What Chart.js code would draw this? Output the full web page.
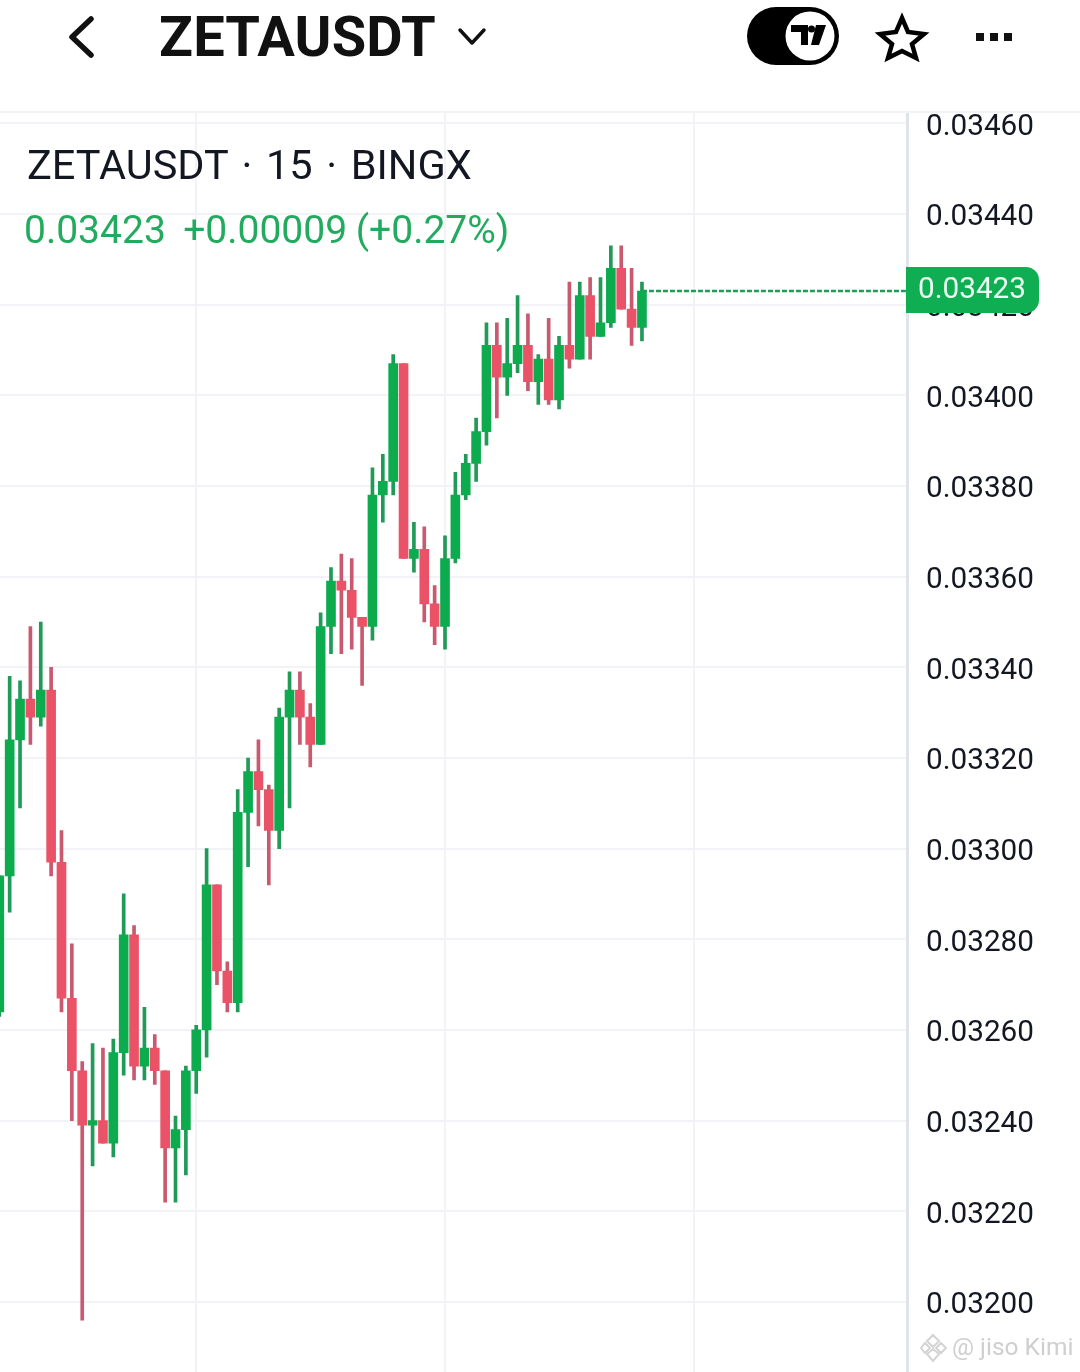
<!DOCTYPE html>
<html lang="en">
<head>
    <meta charset="UTF-8">
    <title>ZETAUSDT 15 BINGX</title>
    <style>
        html, body { margin: 0; padding: 0; background: #fff; width: 1080px; height: 1372px; overflow: hidden; font-family: Roboto, sans-serif; }
        #wrap { position: relative; width: 1080px; height: 1372px; overflow: hidden; }
        #chart { position: absolute; left: 0; top: 0; }
        #topline { position: absolute; left: 0; top: 111px; width: 1080px; height: 2px; background: #f2f3f5; }
        .txt { position: absolute; white-space: pre; line-height: 1; }
        #symbol { left: 159px; top: 9px; font-size: 56px; font-weight: 700; color: #111; letter-spacing: 0.15px; }
        #legend1 { left: 27px; top: 144px; font-size: 41.5px; color: #131722; word-spacing: 3.3px; }
        #legend2 { left: 24px; top: 211px; font-size: 39px; color: #22ab5e; word-spacing: -1px; }
        #mark { left: 952px; top: 1335px; font-size: 24.5px; color: #cfcfcf; }
        svg { position: absolute; overflow: visible; }
    </style>
</head>
<body>
    <div id="wrap">
        <!-- canvas is taller than the page: the layout keeps about 37px free under the plot -->
        <canvas id="chart" width="1080" height="1409"></canvas>
        <div id="topline"></div>

        <svg style="left:0;top:0" width="1080" height="112">
            <polyline points="91,19 72,37 91,55" fill="none" stroke="#111" stroke-width="5.5" stroke-linecap="round" stroke-linejoin="round"/>
            <polyline points="460,30 472,43 484,30" fill="none" stroke="#111" stroke-width="3.5" stroke-linecap="round" stroke-linejoin="round"/>
            <rect x="747" y="7" width="92" height="58" rx="29" fill="#000"/>
            <circle cx="810" cy="36" r="24.5" fill="#fff"/>
            <path d="M791 25h17v20h-7V32h-10z M816 25h10l-7 20h-8z" fill="#000"/>
            <circle cx="811.5" cy="29" r="3.5" fill="#000"/>
            <polygon points="902,18 908,32 924,34 912,44 916,58 902,51 888,58 892,44 880,34 896,32" fill="none" stroke="#000" stroke-width="4.5" stroke-linejoin="miter"/>
            <rect x="976" y="33" width="8" height="8" fill="#111"/>
            <rect x="990" y="33" width="8" height="8" fill="#111"/>
            <rect x="1004" y="33" width="8" height="8" fill="#111"/>
        </svg>
        <div class="txt" id="symbol">ZETAUSDT</div>
        <div class="txt" id="legend1">ZETAUSDT · 15 · BINGX</div>
        <div class="txt" id="legend2">0.03423  +0.00009 (+0.27%)</div>

        <svg style="left:920px;top:1334px" width="28" height="28">
            <path d="M13 1l6 6-6 6-6-6z M5 9l5 5-5 5-4-5z M21 9l5 5-5 5-5-5z M13 15l6 5-6 7-6-7z" fill="none" stroke="#d4d4d4" stroke-width="2"/>
        </svg>
        <div class="txt" id="mark">@ jiso Kimi</div>
    </div>

    <script src="https://cdn.jsdelivr.net/npm/chart.js@4"></script>
    <script>
        // candles, oldest first
        const opens = [0.03264,0.03294,0.03324,0.03333,0.03329,0.03335,0.03297,0.03267,0.03251,0.03239,0.03240,0.03235,0.03255,0.03281,0.03252,0.03256,0.03251,0.03234,0.03238,0.03251,0.03260,0.03292,0.03273,0.03266,0.03308,0.03317,0.03313,0.03304,0.03329,0.03335,0.03329,0.03323,0.03349,0.03359,0.03357,0.03351,0.03349,0.03378,0.03381,0.03407,0.03364,0.03366,0.03354,0.03349,0.03364,0.03378,0.03385,0.03392,0.03411,0.03404,0.03407,0.03411,0.03403,0.03408,0.03399,0.03411,0.03408,0.03422,0.03413,0.03416,0.03428,0.03419,0.03415];
        const highs = [0.03294,0.03338,0.03337,0.03349,0.03350,0.03340,0.03304,0.03279,0.03253,0.03257,0.03256,0.03258,0.03290,0.03283,0.03265,0.03259,0.03251,0.03241,0.03252,0.03261,0.03300,0.03292,0.03275,0.03313,0.03320,0.03324,0.03314,0.03331,0.03339,0.03339,0.03332,0.03352,0.03362,0.03365,0.03364,0.03351,0.03384,0.03387,0.03409,0.03407,0.03372,0.03371,0.03358,0.03369,0.03383,0.03387,0.03395,0.03416,0.03416,0.03417,0.03422,0.03418,0.03409,0.03417,0.03413,0.03425,0.03425,0.03426,0.03426,0.03433,0.03433,0.03428,0.03425];
        const lows = [0.03263,0.03286,0.03309,0.03323,0.03327,0.03294,0.03264,0.03240,0.03196,0.03230,0.03235,0.03232,0.03250,0.03249,0.03249,0.03248,0.03222,0.03222,0.03228,0.03246,0.03254,0.03270,0.03264,0.03264,0.03296,0.03305,0.03292,0.03300,0.03309,0.03323,0.03318,0.03323,0.03343,0.03343,0.03344,0.03336,0.03346,0.03372,0.03378,0.03364,0.03361,0.03350,0.03345,0.03344,0.03363,0.03377,0.03381,0.03389,0.03395,0.03400,0.03405,0.03401,0.03398,0.03398,0.03397,0.03406,0.03408,0.03408,0.03413,0.03415,0.03419,0.03411,0.03412];
        const closes = [0.03294,0.03324,0.03333,0.03329,0.03335,0.03297,0.03267,0.03251,0.03239,0.03240,0.03235,0.03255,0.03281,0.03252,0.03256,0.03251,0.03234,0.03238,0.03251,0.03260,0.03292,0.03273,0.03266,0.03308,0.03317,0.03313,0.03304,0.03329,0.03335,0.03329,0.03323,0.03349,0.03359,0.03357,0.03351,0.03349,0.03378,0.03381,0.03407,0.03364,0.03366,0.03354,0.03349,0.03364,0.03378,0.03385,0.03392,0.03411,0.03404,0.03407,0.03411,0.03403,0.03408,0.03399,0.03411,0.03408,0.03422,0.03413,0.03416,0.03428,0.03419,0.03415,0.03423];

        const priceTicks = [0.032,0.0322,0.0324,0.0326,0.0328,0.033,0.0332,0.0334,0.0336,0.0338,0.034,0.0342,0.0344,0.0346];
        const timeGrid = [19,43,67];
        const lastPrice = 0.03423;

        const xMin = 0.0675, xMax = 87.57;
        const yMin = 0.031845, yMax = 0.034625;

        const green = '#0bab4e', red = '#ea5367';
        const greenWick = '#1f9a57', redWick = '#c9596f';

        // candle parts as floating bars
        var upOrDown = closes.map(function (c, i) { return c >= opens[i]; });
        var wickData = highs.map(function (h, i) { return { x: i, y: [lows[i], h] }; });
        var bodyData = opens.map(function (o, i) { return { x: i, y: [o, closes[i]] }; });

        // price tag on the axis
        const priceTag = {
            id: 'priceTag',
            afterDraw: function (chart) {
                var ctx = chart.ctx;
                var y = chart.scales.y.getPixelForValue(lastPrice);
                ctx.save();
                ctx.fillStyle = '#0fae52';
                ctx.beginPath();
                ctx.roundRect(906, y - 24, 133, 46, [0, 13, 13, 0]);
                ctx.fill();
                ctx.fillStyle = '#eafff2';
                ctx.font = '29.7px Roboto';
                ctx.textBaseline = 'middle';
                ctx.fillText(lastPrice.toFixed(5), 918, y);
                ctx.restore();
            }
        };

        new Chart('chart', {
            data: {
                datasets: [
                    {
                        type: 'line',
                        data: [{ x: 62, y: lastPrice }, { x: xMax, y: lastPrice }],
                        borderColor: '#1e9c5a',
                        borderWidth: 2.5,
                        borderDash: [5, 2],
                        pointRadius: 0,
                        order: 3
                    },
                    {
                        type: 'bar',
                        data: wickData,
                        backgroundColor: upOrDown.map(function (u) { return u ? greenWick : redWick; }),
                        barThickness: 3,
                        grouped: false,
                        order: 2
                    },
                    {
                        type: 'bar',
                        data: bodyData,
                        backgroundColor: upOrDown.map(function (u) { return u ? green : red; }),
                        barThickness: 9,
                        minBarLength: 4,
                        grouped: false,
                        order: 1
                    }
                ]
            },
            options: {
                responsive: false,
                animation: false,
                layout: { autoPadding: false, padding: { top: 112, left: 0, right: 0, bottom: 0 } },
                plugins: { legend: { display: false }, tooltip: { enabled: false } },
                scales: {
                    x: {
                        type: 'linear',
                        min: xMin,
                        max: xMax,
                        offset: false,
                        afterBuildTicks: function (scale) {
                            scale.ticks = timeGrid.map(function (v) { return { value: v }; });
                        },
                        afterFit: function (scale) { scale.height = 1; },
                        ticks: { display: false },
                        grid: { color: '#f2f3f6', lineWidth: 2, drawTicks: false, offset: false },
                        border: { display: false }
                    },
                    y: {
                        position: 'right',
                        min: yMin,
                        max: yMax,
                        afterBuildTicks: function (scale) {
                            scale.ticks = priceTicks.map(function (v) { return { value: v }; });
                        },
                        afterFit: function (scale) { scale.width = 173; },
                        ticks: {
                            padding: 19,
                            labelOffset: 4,
                            color: '#131722',
                            font: { family: 'Roboto', size: 29.7 },
                            callback: function (v) { return v.toFixed(5); }
                        },
                        grid: { color: '#f2f3f6', lineWidth: 2, drawTicks: false },
                        border: { display: true, color: '#e0e3eb', width: 3 }
                    }
                }
            },
            plugins: [priceTag]
        });
    </script>
</body>
</html>
